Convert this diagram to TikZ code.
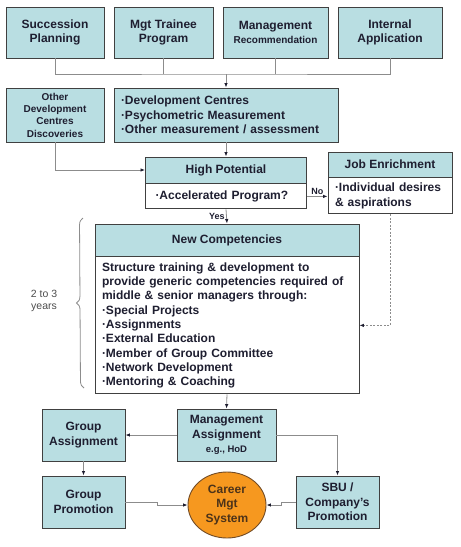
\documentclass[tikz,border=0pt]{standalone}
\usepackage{fontspec}
\setmainfont{Liberation Sans}
\usetikzlibrary{shapes.geometric}
\usetikzlibrary{positioning}
\usetikzlibrary{decorations.pathreplacing}
\usetikzlibrary{arrows.meta}
\definecolor{boxfill}{HTML}{B9DEE2}
\definecolor{careerfill}{HTML}{F6981F}
\definecolor{ink}{HTML}{1E1E30}
\definecolor{wire}{HTML}{8C8C8C}
\newcommand{\bul}{\textperiodcentered}

\begin{document}
\begin{tikzpicture}
          [x=1pt, y=-1pt, thick,
           box/.style = {draw=black!75, line width=0.9pt, fill=boxfill, text=ink, align=center, inner sep=2pt,
                         font=\bfseries\fontsize{12}{14.5}\selectfont},
           body/.style = {draw=black!75, line width=0.9pt, fill=white, text=ink, align=left, inner xsep=7pt, inner ysep=2pt,
                          font=\bfseries\fontsize{12}{14.3}\selectfont},
           line/.style = {draw=wire, line width=0.8pt},
           arrow/.style = {line, -{Latex[length=4.5pt,width=3.5pt,color=ink]}},
           tag/.style = {text=ink, inner sep=1.5pt, font=\bfseries\fontsize{9}{10}\selectfont}]
          \useasboundingbox (0,0) rectangle (461,547);

          % sources
          \node[box, minimum width=98pt, minimum height=51pt] (sp) at (55,32.5) {Succession\\Planning};
          \node[box, minimum width=99pt, minimum height=51pt] (mt) at (163.5,32.5) {Mgt Trainee\\Program};
          \node[box, minimum width=105pt, minimum height=51pt] (mr) at (275.5,32.5) {Management\\{\fontsize{10}{12}\selectfont Recommendation}};
          \node[box, minimum width=104pt, minimum height=51pt] (ia) at (390,32.5) {Internal\\Application};
          \coordinate (join) at (226,74);

          \node[box, minimum width=98pt, minimum height=54pt, font=\bfseries\fontsize{10}{12.3}\selectfont] (od) at (55,115)
               {Other\\Development\\Centres\\Discoveries};
          \node[body, fill=boxfill, text width=210pt, minimum height=54pt] (dc) at (226,115)
               {\bul Development Centres\\\bul Psychometric Measurement\\\bul Other measurement / assessment};

          % decision
          \node[box, minimum width=161pt, minimum height=26pt] (hp) at (226,170) {High Potential};
          \node[body, below=0pt of hp, inner xsep=10pt, text width=141pt, minimum height=25pt] (hpb) {\bul Accelerated Program?};
          \node[box, minimum width=124pt, minimum height=25pt] (je) at (390,164.5) {Job Enrichment};
          \node[body, below=0pt of je, text width=110pt, minimum height=36pt] (jeb) {\bul Individual desires\\\& aspirations};

          % development
          \node[box, minimum width=264pt, minimum height=32pt] (nc) at (227,240) {New Competencies};
          \node[body, below=0pt of nc, text width=250pt, minimum height=137pt] (ncb)
               {Structure training \& development to\\provide generic competencies required of\\middle \& senior managers through:\\
                \bul Special Projects\\\bul Assignments\\\bul External Education\\\bul Member of Group Committee\\
                \bul Network Development\\\bul Mentoring \& Coaching};
          \coordinate (span top) at (83,218);
          \coordinate (span bottom) at (84,388);
          \node[text=black!70, align=center, font=\fontsize{10.5}{12.5}\selectfont] (yrs) at (44,301) {2 to 3\\years};

          % outcomes
          \node[box, minimum width=99pt, minimum height=52pt] (ma) at (226.5,435)
               {Management\\Assignment\\{\fontsize{9.5}{11}\selectfont e.g., HoD}};
          \node[box, minimum width=83pt, minimum height=52pt] (ga) at (83.5,435) {Group\\Assignment};
          \node[box, minimum width=83pt, minimum height=52pt] (gp) at (83.5,502) {Group\\Promotion};
          \node[box, minimum width=83pt, minimum height=52pt] (sbu) at (337.5,502) {SBU /\\Company's\\Promotion};
          \node[ellipse, draw=brown!60!black, line width=0.9pt, fill=careerfill, text=brown!40!black, align=center,
                minimum width=78pt, minimum height=66pt, inner sep=0pt,
                font=\bfseries\fontsize{12}{14.5}\selectfont] (cm) at (227,505) {Career\\Mgt\\System};

          \draw[line] (sp.south) |- (join) -| (ia.south);
          \draw[line] (mt.south) -- (mt.south |- join);
          \draw[line] (mr.south) -- (mr.south |- join);
          \draw[arrow] (join) -- (dc.north);
          \draw[arrow] (od.south) |- (hp.west);
          \draw[arrow] (dc.south) -- (hp.north);
          \draw[arrow] (hpb.east) -- (jeb.west |- hpb.east) node[tag, midway, above] {No};
          \draw[arrow] (hpb.south) -- (nc.north) node[tag, midway, left] {Yes};
          \draw[arrow, dash pattern=on 2pt off 1.5pt] (jeb.south) |- (ncb.east);
          \draw[line, decorate, decoration={brace, amplitude=7pt}] (span bottom) -- (span top);
          \draw[arrow] (ncb.south) -- (ma.north);
          \draw[arrow] (ma.west) -- (ga.east);
          \draw[arrow] (ma.east) -| (sbu.north);
          \draw[arrow] (ga.south) -- (gp.north);
          \draw[arrow] (gp.east) -- ++(32,0) |- (cm.west);
          \draw[arrow] (sbu.west) -- ++(-14,0) |- (cm.east);
\end{tikzpicture}
\end{document}
